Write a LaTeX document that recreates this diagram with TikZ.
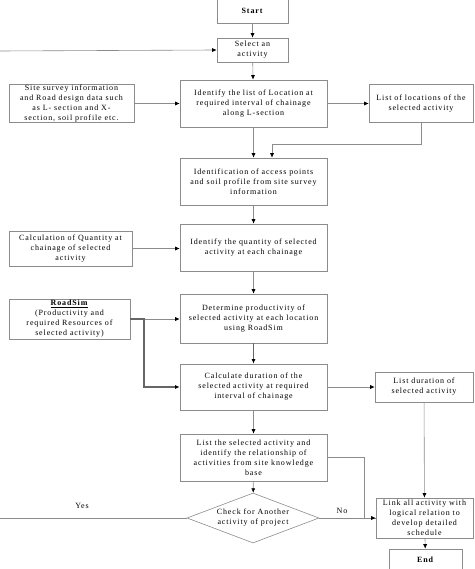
\documentclass[tikz,border=0pt]{standalone}
\usepackage{fontspec}
\setmainfont[LetterSpace=11]{Liberation Serif}
\usepackage{tikz}
\usetikzlibrary{arrows.meta,shapes.geometric}

\begin{document}
\begin{tikzpicture}[x=1pt,y=-1pt,
		bloque/.style={draw=black!45,line width=0.6pt,rectangle,inner sep=0pt,align=center,
			font=\fontsize{8}{10}\selectfont,text=black},
		rombo/.style={draw=black!45,line width=0.6pt,diamond,aspect=2.64,inner sep=0pt,align=center,
			minimum width=132pt,minimum height=50pt,font=\fontsize{8}{10}\selectfont,text=black},
		linea/.style={draw=black!45,line width=0.6pt},
		flecha/.style={linea,-{Latex[black,length=4.5pt,width=4pt]}},
		grueso/.style={draw=black!60,line width=1.5pt},
		etiq/.style={font=\fontsize{8}{10}\selectfont,text=black}]
		\useasboundingbox (0,0) rectangle (474,569);
		
		% columna central
		\node[bloque,minimum width=71pt,minimum height=24pt] (inicio) at (252.5,11) {\textbf{Start}};
		\node[bloque,minimum width=71pt,minimum height=24pt] (selec) at (252.5,50) {Select an\\activity};
		\node[bloque,minimum width=147pt,minimum height=47pt] (ubic) at (253.5,103.5) {Identify the list of Location at\\required interval of chainage\\along L-section};
		\node[bloque,minimum width=147pt,minimum height=47pt] (acceso) at (253.5,181.5) {Identification of access points\\and soil profile from site survey\\information};
		\node[bloque,minimum width=147pt,minimum height=47pt] (cant) at (253.5,247.5) {Identify the quantity of selected\\activity at each chainage};
		\node[bloque,minimum width=147pt,minimum height=49pt] (prod) at (253.5,318.5) {Determine productivity of\\selected activity at each location\\using RoadSim};
		\node[bloque,minimum width=147pt,minimum height=46pt] (dur) at (253.5,387) {Calculate duration of the\\selected activity at required\\interval of chainage};
		\node[bloque,minimum width=147pt,minimum height=47pt] (relac) at (253.5,457.5) {List the selected activity and\\identify the relationship of\\activities from site knowledge\\base};
		\node[rombo] (otra) at (253,518) {Check for Another\\activity of project};
		
		% columna izquierda
		\node[bloque,minimum width=125pt,minimum height=38pt] (sitio) at (71.5,103.5) {Site survey information\\and Road design data such\\as L- section and X-\\section, soil profile etc.};
		\node[bloque,minimum width=123pt,minimum height=35pt] (calc) at (70.5,248.5) {Calculation of Quantity at\\chainage of selected\\activity};
		\node[bloque,minimum width=121pt,minimum height=40pt] (roadsim) at (69.5,319) {\underline{\textbf{RoadSim}}\\(Productivity and\\required Resources of\\selected activity)};
		
		% columna derecha
		\node[bloque,minimum width=104pt,minimum height=38pt] (lista) at (421,103.5) {List of locations of the\\selected activity};
		\node[bloque,minimum width=98pt,minimum height=30pt] (listadur) at (424,387) {List duration of\\selected activity};
		\node[bloque,minimum width=97pt,minimum height=40pt] (enlace) at (424.5,518) {Link all activity with\\logical relation to\\develop detailed\\schedule};
		\node[bloque,minimum width=73pt,minimum height=22pt] (fin) at (425.5,560) {\textbf{End}};
		
		% puntos auxiliares
		\coordinate (vuelta) at (272,144);
		\coordinate (izqabajo) at (0,518);
		\coordinate (izqarriba) at (0,51);
		\coordinate (codo) at (144,319);
		\coordinate (union) at (364,457.5);
		
		% conectores
		\draw[flecha] (inicio) -- (selec);
		\draw[flecha] (selec) -- (ubic);
		\draw[flecha] (sitio.east) -- (sitio.east -| ubic.west);
		\draw[flecha] (ubic.east) -- (ubic.east -| lista.west);
		\draw[flecha] (ubic) -- (acceso);
		\draw[flecha] (lista.south) |- (vuelta) -- (vuelta |- acceso.north);
		\draw[flecha] (acceso) -- (cant);
		\draw[flecha] (calc.east) -- (calc.east -| cant.west);
		\draw[flecha] (cant) -- (prod);
		\draw[flecha] (roadsim.east) -- (roadsim.east -| prod.west);
		\draw[flecha,grueso] (roadsim.east) -- (codo) |- (dur.west);
		\draw[flecha,grueso] (prod) -- (dur);
		\draw[flecha] (dur.east) -- (dur.east -| listadur.west);
		\draw[flecha] (dur) -- (relac);
		\draw[flecha] (relac) -- (otra);
		\draw[flecha] (listadur) -- (enlace);
		\draw[linea] (relac.east) -- (union) |- (enlace.west);
		\draw[flecha] (otra.east) -- (enlace.west);
		\draw[flecha] (enlace) -- (fin);
		\draw[linea] (otra.west) -- (izqabajo);
		\draw[flecha] (izqarriba) -- (selec.west);
		
		% etiquetas
		\node[etiq] (si) at (82,506) {Yes};
		\node[etiq] (no) at (342,511) {No};
	\end{tikzpicture}
\end{document}
